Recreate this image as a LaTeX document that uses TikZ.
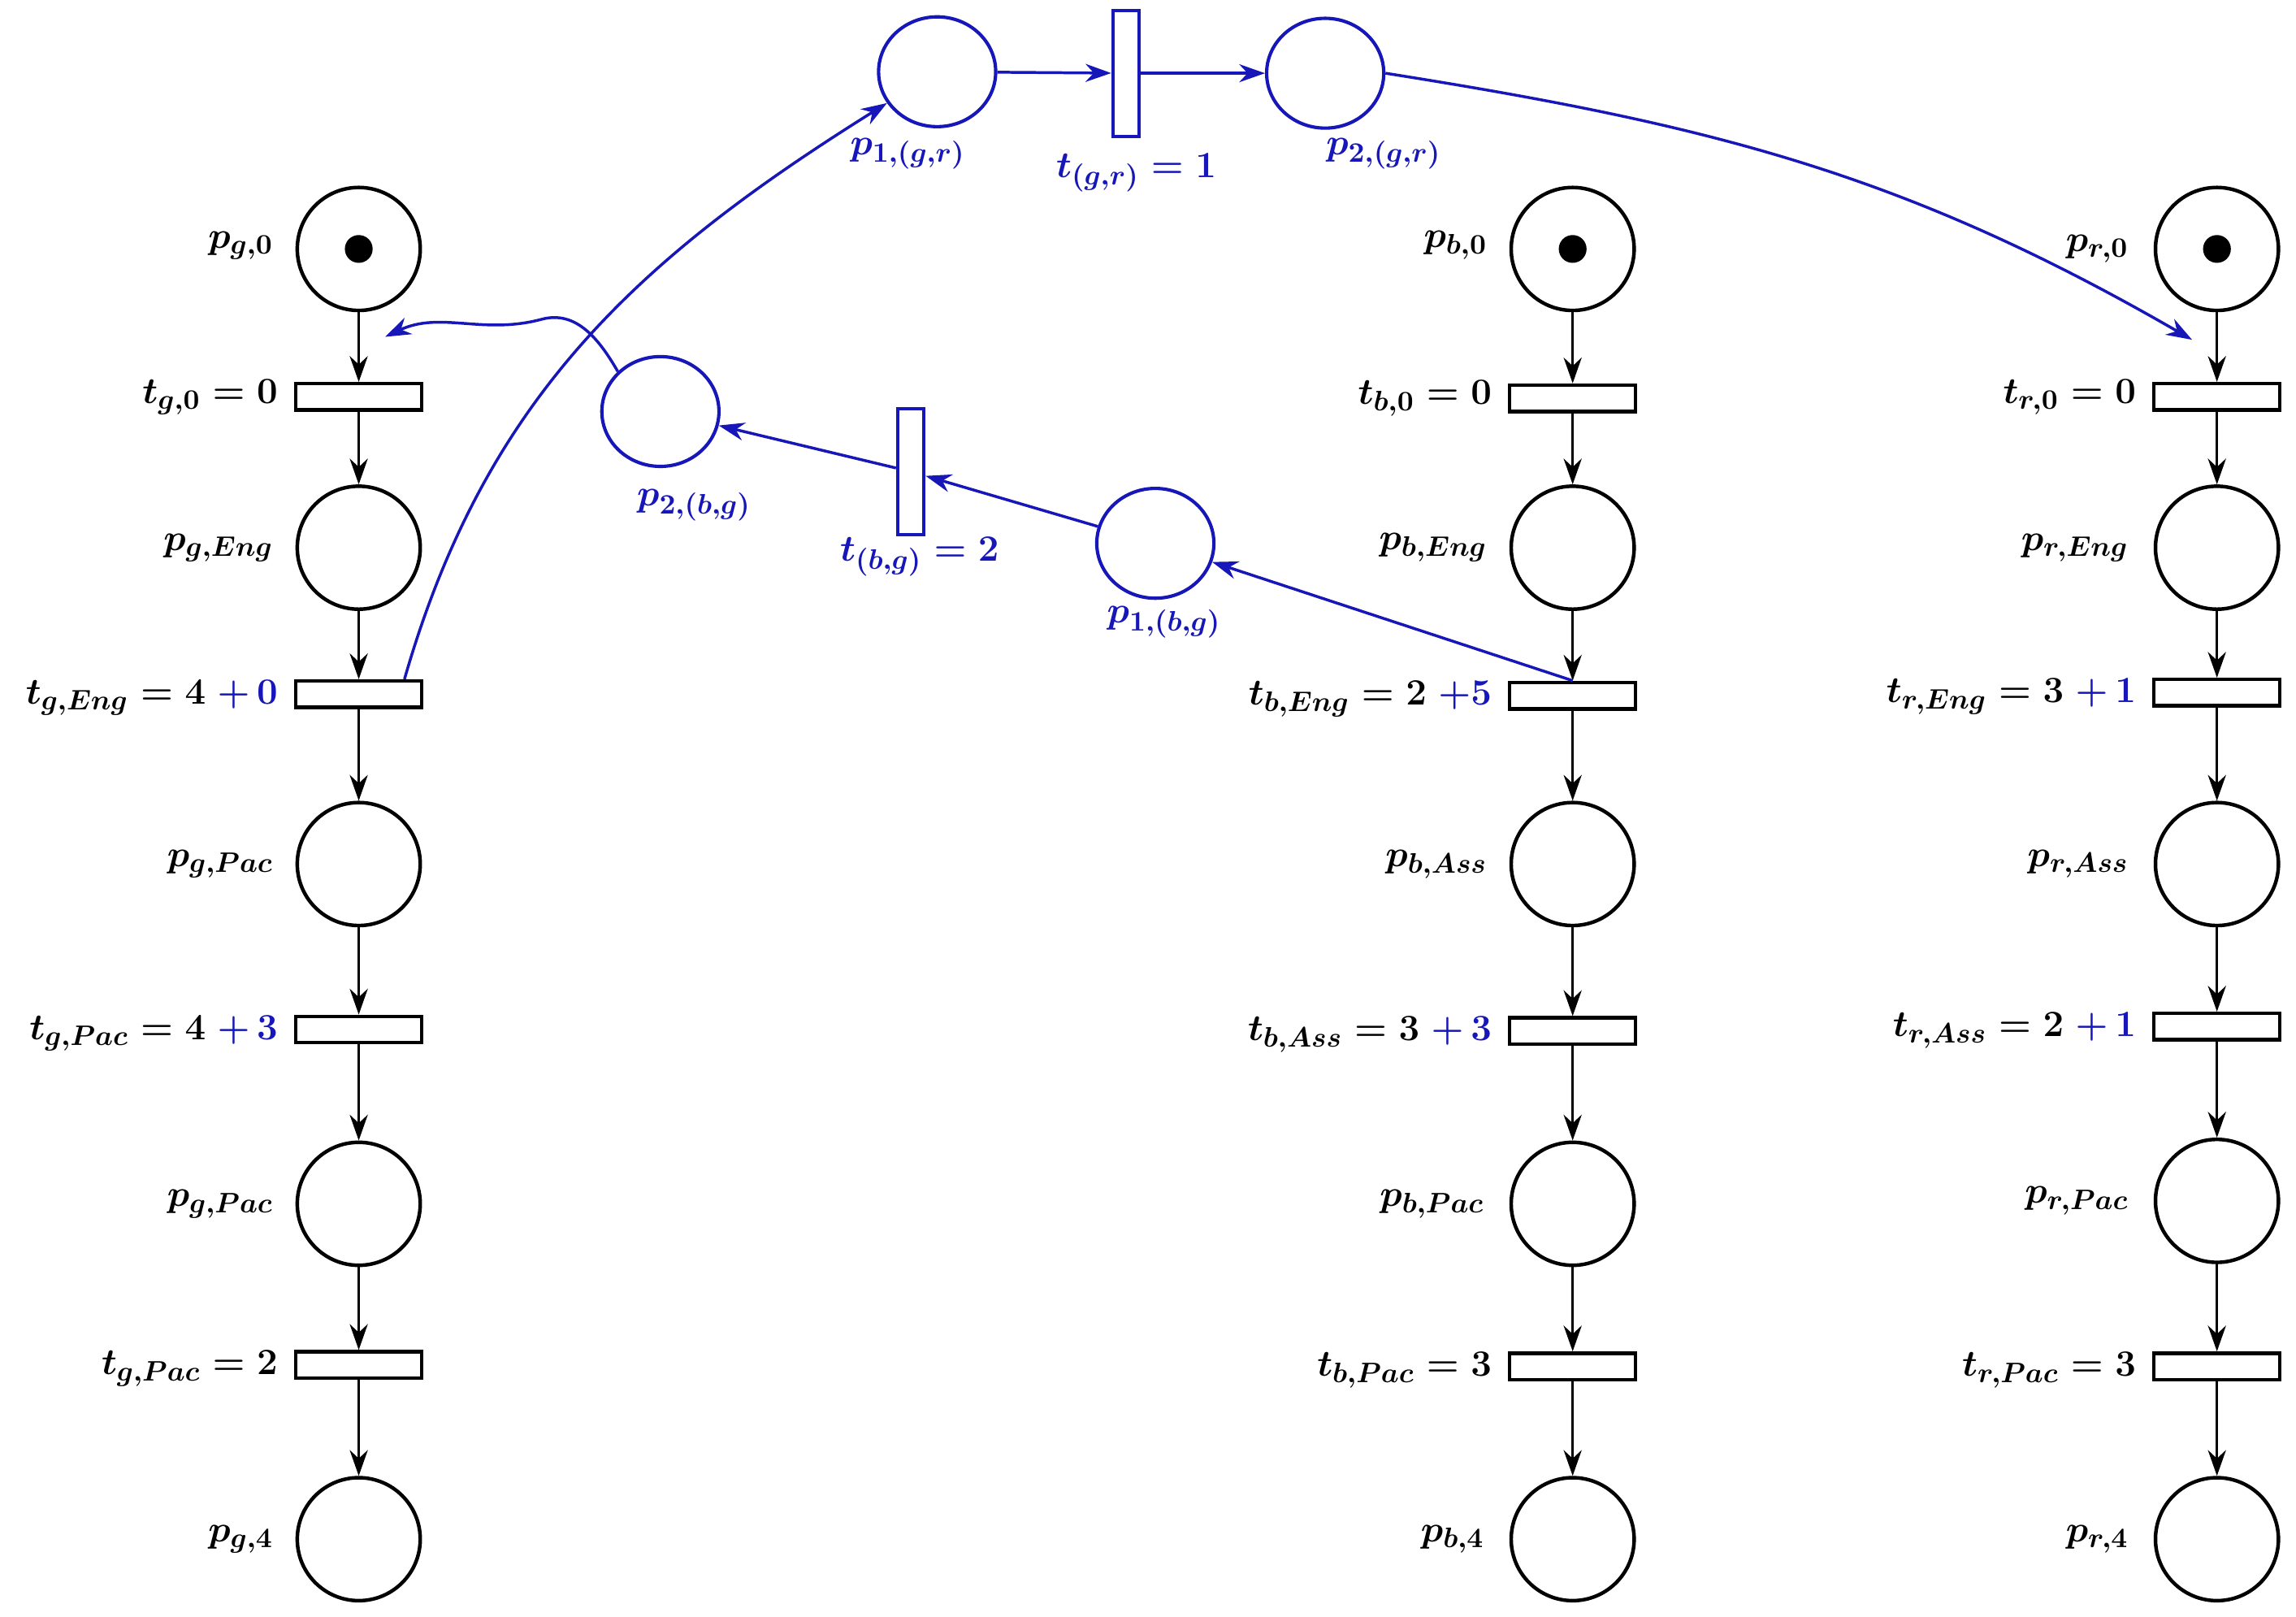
\documentclass[tikz,border=0pt]{standalone}
\usepackage{amsmath}
\usepackage{xcolor}
\usetikzlibrary{arrows.meta,positioning,shapes.geometric}
\definecolor{pnblue}{RGB}{22,22,185}
\tikzset{
  place/.style={circle,draw,line width=1.4pt,minimum size=1.68cm,inner sep=0pt},
  bplace/.style={ellipse,draw=pnblue,line width=1.3pt,minimum width=1.6cm,minimum height=1.5cm,inner sep=0pt},
  trans/.style={rectangle,draw,line width=1.4pt,minimum width=1.72cm,minimum height=0.36cm,inner sep=0pt},
  btrans/.style={rectangle,draw=pnblue,line width=1.3pt,minimum width=0.36cm,minimum height=1.72cm,inner sep=0pt},
  token/.style={circle,fill,minimum size=0.38cm,inner sep=0pt},
  lab/.style={font=\fontsize{15}{18}\selectfont\boldmath,inner sep=1pt},
  blab/.style={lab,text=pnblue},
  arc/.style={line width=1.1pt,-{Stealth[length=10pt,width=7pt]}},
  barc/.style={arc,pnblue}
}
\newcommand{\bl}[1]{{\color{pnblue}#1}}
\begin{document}
\begin{tikzpicture}[x=0.02cm,y=-0.02cm]
\useasboundingbox (0,0) rectangle (1568,1104);
% column g
\node[place] (pg0) at (245,170) {};
\node[token] at (pg0) {};
\node[trans] (tg0) at (245,271) {};
\node[place] (pgEng) at (245,374) {};
\node[trans] (tgEng) at (245,474) {};
\node[place] (pgPac) at (245,590) {};
\node[trans] (tgPac) at (245,703) {};
\node[place] (pgPacb) at (245,822) {};
\node[trans] (tgPacb) at (245,932) {};
\node[place] (pg4) at (245,1051) {};
% column b
\node[place] (pb0) at (1074,170) {};
\node[token] at (pb0) {};
\node[trans] (tb0) at (1074,272) {};
\node[place] (pbEng) at (1074,374) {};
\node[trans] (tbEng) at (1074,475) {};
\node[place] (pbAss) at (1074,590) {};
\node[trans] (tbAss) at (1074,704) {};
\node[place] (pbPac) at (1074,822) {};
\node[trans] (tbPac) at (1074,933) {};
\node[place] (pb4) at (1074,1051) {};
% column r
\node[place] (pr0) at (1514,170) {};
\node[token] at (pr0) {};
\node[trans] (tr0) at (1514,271) {};
\node[place] (prEng) at (1514,374) {};
\node[trans] (trEng) at (1514,473) {};
\node[place] (prAss) at (1514,590) {};
\node[trans] (trAss) at (1514,701) {};
\node[place] (prPac) at (1514,820) {};
\node[trans] (trPac) at (1514,933) {};
\node[place] (pr4) at (1514,1051) {};
% labels g
\node[lab,left=0.26cm of pg0,yshift=0.05cm] {$p_{g,0}$};
\node[lab,left=0.18cm of tg0] {$t_{g,0}=0$};
\node[lab,left=0.26cm of pgEng] {$p_{g,Eng}$};
\node[lab,left=0.18cm of tgEng,yshift=-0.05cm] {$t_{g,Eng}=4\ \bl{+\,0}$};
\node[lab,left=0.26cm of pgPac] {$p_{g,Pac}$};
\node[lab,left=0.18cm of tgPac,yshift=-0.05cm] {$t_{g,Pac}=4\ \bl{+\,3}$};
\node[lab,left=0.26cm of pgPacb] {$p_{g,Pac}$};
\node[lab,left=0.18cm of tgPacb,yshift=-0.05cm] {$t_{g,Pac}=2$};
\node[lab,left=0.26cm of pg4] {$p_{g,4}$};
% labels b
\node[lab,left=0.26cm of pb0,yshift=0.05cm] {$p_{b,0}$};
\node[lab,left=0.18cm of tb0] {$t_{b,0}=0$};
\node[lab,left=0.26cm of pbEng] {$p_{b,Eng}$};
\node[lab,left=0.18cm of tbEng,yshift=-0.05cm] {$t_{b,Eng}=2\ \bl{+5}$};
\node[lab,left=0.26cm of pbAss] {$p_{b,Ass}$};
\node[lab,left=0.18cm of tbAss,yshift=-0.05cm] {$t_{b,Ass}=3\ \bl{+\,3}$};
\node[lab,left=0.3cm of pbPac] {$p_{b,Pac}$};
\node[lab,left=0.18cm of tbPac,yshift=-0.05cm] {$t_{b,Pac}=3$};
\node[lab,left=0.3cm of pb4] {$p_{b,4}$};
% labels r
\node[lab,left=0.3cm of pr0] {$p_{r,0}$};
\node[lab,left=0.18cm of tr0] {$t_{r,0}=0$};
\node[lab,left=0.3cm of prEng] {$p_{r,Eng}$};
\node[lab,left=0.18cm of trEng,yshift=-0.05cm] {$t_{r,Eng}=3\ \bl{+\,1}$};
\node[lab,left=0.3cm of prAss] {$p_{r,Ass}$};
\node[lab,left=0.18cm of trAss,yshift=-0.05cm] {$t_{r,Ass}=2\ \bl{+\,1}$};
\node[lab,left=0.3cm of prPac] {$p_{r,Pac}$};
\node[lab,left=0.18cm of trPac,yshift=-0.05cm] {$t_{r,Pac}=3$};
\node[lab,left=0.3cm of pr4] {$p_{r,4}$};
% column arcs
\foreach \c/\m in {g/Pac,b/Ass,r/Ass}{
  \draw[arc] (p\c0) -- (t\c0);
  \draw[arc] (t\c0) -- (p\c Eng);
  \draw[arc] (p\c Eng) -- (t\c Eng);
  \draw[arc] (t\c Eng) -- (p\c\m);
}
\draw[arc] (pgPac) -- (tgPac);
\draw[arc] (tgPac) -- (pgPacb);
\draw[arc] (pgPacb) -- (tgPacb);
\draw[arc] (tgPacb) -- (pg4);
\draw[arc] (pbAss) -- (tbAss);
\draw[arc] (tbAss) -- (pbPac);
\draw[arc] (pbPac) -- (tbPac);
\draw[arc] (tbPac) -- (pb4);
\draw[arc] (prAss) -- (trAss);
\draw[arc] (trAss) -- (prPac);
\draw[arc] (prPac) -- (trPac);
\draw[arc] (trPac) -- (pr4);
% blue places and transitions
\node[bplace] (p1gr) at (640,49) {};
\node[btrans] (tgr) at (769,50) {};
\node[bplace] (p2gr) at (905,50) {};
\node[bplace] (p2bg) at (451,281) {};
\node[btrans] (tbg) at (622,322) {};
\node[bplace] (p1bg) at (789,371) {};
\node[blab] at (620,105) {$p_{1,(g,r)}$};
\node[blab] at (776,118) {$t_{(g,r)}=1$};
\node[blab] at (945,105) {$p_{2,(g,r)}$};
\node[blab] at (474,345) {$p_{2,(b,g)}$};
\node[blab] at (628,380) {$t_{(b,g)}=2$};
\node[blab] at (795,425) {$p_{1,(b,g)}$};
\coordinate (tgin) at (263,230);
\coordinate (trin) at (1497,232);
% blue arcs
\draw[barc] ([xshift=-0.26cm]tgEng.north east) to[out=74,in=212] (p1gr);
\draw[barc] (p1gr) -- (tgr);
\draw[barc] (tgr) -- (p2gr);
\draw[barc] (p2gr.east) to[out=-9,in=150] (trin);
\draw[barc] (tbEng.north) -- (p1bg);
\draw[barc] (p1bg) -- (tbg);
\draw[barc] (tbg) -- (p2bg);
\draw[barc] (p2bg.north west) to[out=120,in=15] (370,218) to[out=195,in=25] (tgin);
\end{tikzpicture}
\end{document}
